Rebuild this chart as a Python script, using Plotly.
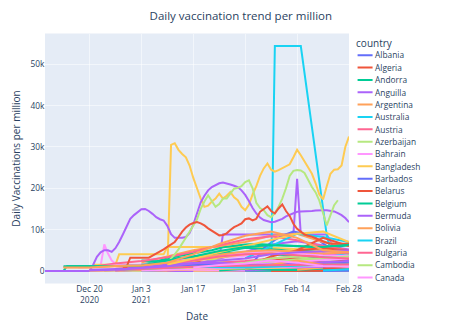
import pandas as pd
import plotly.graph_objects as go

# ---------------- data ----------------
week_dates = ["2020-12-13", "2020-12-20", "2020-12-27", "2021-01-03", "2021-01-10",
              "2021-01-17", "2021-01-24", "2021-01-31", "2021-02-07", "2021-02-14",
              "2021-02-21", "2021-02-28"]

countries = [
    "Albania", "Algeria", "Andorra", "Anguilla", "Argentina", "Australia", "Austria",
    "Azerbaijan", "Bahrain", "Bangladesh", "Barbados", "Belarus", "Belgium", "Bermuda",
    "Bolivia", "Brazil", "Bulgaria", "Cambodia", "Canada", "Cayman Islands", "Chile",
    "China", "Colombia", "Costa Rica", "Croatia", "Cyprus", "Czechia", "Denmark",
    "Dominican Republic", "Ecuador", "Egypt", "El Salvador", "England", "Estonia",
    "Faeroe Islands", "Falkland Islands", "Finland", "France", "Germany", "Gibraltar",
    "Greece", "Greenland", "Guernsey", "Guinea", "Guyana", "Hong Kong", "Hungary",
    "Iceland", "India", "Indonesia", "Iran", "Ireland", "Isle of Man", "Israel", "Italy",
    "Japan", "Jersey", "Kuwait", "Latvia", "Lebanon", "Liechtenstein", "Lithuania",
    "Luxembourg", "Macao", "Malaysia", "Maldives", "Malta", "Mauritius", "Mexico",
    "Monaco", "Montenegro", "Morocco", "Myanmar", "Nepal", "Netherlands", "New Zealand",
    "North Macedonia", "Northern Cyprus", "Northern Ireland", "Norway", "Oman",
    "Pakistan", "Panama", "Paraguay", "Peru", "Poland", "Portugal", "Qatar", "Romania",
    "Russia", "Rwanda", "Saint Helena", "San Marino", "Saudi Arabia", "Scotland",
    "Senegal", "Serbia", "Seychelles", "Singapore", "Slovakia", "Slovenia",
    "South Africa", "South Korea", "Spain", "Sri Lanka", "Sweden", "Switzerland",
    "Thailand", "Turkey", "Turks and Caicos Islands", "Ukraine", "United Arab Emirates",
    "United Kingdom", "United States", "Wales", "Zimbabwe"]

# legend entries visible in the (scroll-truncated) legend of the reference
legend_visible = ["Albania", "Algeria", "Andorra", "Anguilla", "Argentina", "Australia",
                  "Austria", "Azerbaijan", "Bahrain", "Bangladesh", "Barbados", "Belarus",
                  "Belgium", "Bermuda", "Bolivia", "Brazil", "Bulgaria", "Cambodia",
                  "Canada"]

# daily series (start date + one value per day)
israel_start = "2020-12-08"
israel_vals = [0, 0, 0, 0, 0, 0, 0, 0, 0, 0, 0, 0, 0,
               1500, 3400, 4500, 5000, 5000, 4600, 5500, 7000, 8800, 10800, 12600,
               13500, 14200, 14900, 15000, 14500, 13800, 13000, 12500, 12200, 10900,
               8900, 8000, 8000, 8000, 8200, 9200, 11200, 13800, 16600, 18200,
               19500, 20300, 20800, 21200, 21400, 21200, 20900, 20600, 20300, 19500, 18400,
               16900, 15200, 13900, 12900, 12300, 12000, 11800, 11900, 12200, 12600,
               13200, 13600, 14000, 14300, 14400, 14400, 14400, 14500, 14600, 14700,
               14700, 14700, 14600, 14400, 14000, 13500, 12800, 11800]

gibraltar_start = "2021-01-10"
gibraltar_vals = [0, 30500, 30900, 29300, 28300, 27500, 25500, 22500, 20000, 17500,
                  15500, 15800, 16800, 17500, 18700, 17500, 18200, 19100, 17800, 17100,
                  15500, 14700,
                  16000, 18500, 20500, 23000, 24800, 26000, 24500, 24000, 24400, 24900,
                  25300, 25800, 27500, 29300, 28000, 26600, 25000, 23500, 21200, 18500,
                  17300, 20500, 23500, 24500, 24600, 25500, 30000, 32500]

uae_start = "2020-12-29"
uae_vals = [1000, 1000, 3200,
            3200, 3200, 3200, 3200, 3200, 3700, 4200, 4600, 5200, 5800,
            6400, 7000, 8200, 9500, 10500, 11200, 11600, 11800, 11500, 11000,
            10300, 9700, 9100, 8600, 8700, 9100, 9900, 10600, 11000, 11500, 12500,
            12700, 12200, 12600, 14300, 15000, 15600, 14500, 13900, 15100, 16100,
            14500, 13300, 11400, 10200, 9500, 8800, 8500, 8300, 7900, 7500,
            7100, 6800, 6600, 6600, 6600, 6600, 6600, 6600]

seychelles_start = "2021-01-10"
seychelles_vals = [2000, 3000, 4000, 5200, 6500, 8000, 9500, 11000, 12500, 15000,
                   16800, 18300, 17000, 15500, 16200, 17500, 17500, 18800, 19900, 20100,
                   20500, 21500,
                   21900, 20000, 16500, 15200, 14700, 13500, 13000, 14000, 15500, 17500,
                   20000, 23000, 24200, 24400, 24300, 23700, 22000, 20300, 19000, 17000,
                   14000, 11000, 13500, 15900, 17100]

# irregularly dated series
falkland_dates = ["2021-02-01", "2021-02-07", "2021-02-08", "2021-02-15", "2021-02-22",
                  "2021-02-23", "2021-02-25", "2021-02-28"]
falkland_vals = [0, 0, 54400, 54400, 8600, 5000, 4000, 3500]

anguilla_dates = ["2021-01-18", "2021-01-21", "2021-01-24", "2021-01-25", "2021-02-13",
                  "2021-02-14", "2021-02-15", "2021-02-22", "2021-02-24", "2021-02-26",
                  "2021-02-28"]
anguilla_vals = [1500, 2500, 3000, 8800, 8800, 22300, 8800, 8800, 5500, 4500, 4000]

england_dates = ["2020-12-13", "2020-12-14", "2021-01-04", "2021-01-06", "2021-01-08",
                 "2021-01-10", "2021-01-13", "2021-01-16", "2021-01-19", "2021-01-22",
                 "2021-01-25", "2021-01-28", "2021-01-31", "2021-02-03", "2021-02-06",
                 "2021-02-09", "2021-02-12", "2021-02-15", "2021-02-18", "2021-02-21",
                 "2021-02-24", "2021-02-28"]
england_vals = [0, 1200, 1250, 1800, 2500, 3000, 3600, 4100, 4500, 5000, 5700, 6100,
                6400, 6500, 6400, 6300, 6100, 5900, 5800, 5900, 6100, 6400]

bahrain_dates = ["2020-12-17", "2020-12-22", "2020-12-23", "2020-12-24", "2020-12-25",
                 "2020-12-26", "2020-12-27", "2020-12-29", "2021-01-02", "2021-01-08",
                 "2021-01-15", "2021-01-22", "2021-01-29", "2021-02-05", "2021-02-12",
                 "2021-02-19", "2021-02-24", "2021-02-28"]
bahrain_vals = [800, 1000, 1200, 6400, 4200, 2500, 1800, 1500, 1500, 1800, 2200, 3000,
                3500, 4000, 4500, 4200, 4500, 4800]

cayman_dates = ["2020-12-21", "2020-12-27", "2020-12-28", "2021-01-09", "2021-01-10",
                "2021-01-31", "2021-02-07", "2021-02-14", "2021-02-21", "2021-02-28"]
cayman_vals = [1500, 1500, 4000, 4000, 5800, 5800, 5600, 5300, 5000, 4600]

chile_dates = ["2020-12-24", "2021-01-01", "2021-01-15", "2021-01-25", "2021-02-01",
               "2021-02-03", "2021-02-05", "2021-02-08", "2021-02-10", "2021-02-13",
               "2021-02-16", "2021-02-19", "2021-02-22", "2021-02-25", "2021-02-28"]
chile_vals = [100, 300, 300, 400, 1000, 3000, 5500, 7500, 8500, 9500, 9000, 8000, 6000,
              5000, 4500]

# weekly series (values aligned to the last entries of week_dates)
albania = [60, 90, 120, 200, 300, 450, 600]
algeria = [5, 15, 25, 30, 40]
andorra = [500, 900, 1500, 2300, 2800, 2400]
argentina = [50, 350, 450, 550, 650, 700, 650, 550, 500]
australia = [30, 450]
austria = [80, 250, 450, 550, 550, 700, 850, 1100, 1300, 1350]
azerbaijan = [150, 350, 650, 950, 1300, 1700]
bangladesh = [40, 350, 950, 1250, 1100]
barbados = [2200, 4200, 3600]
belarus = [50, 100, 120, 150, 200, 220, 250, 280, 300]
belgium = [30, 200, 400, 600, 800, 950, 1400, 1900, 2300]
bermuda = [1200, 3000, 4600, 6400, 7200, 6200, 5200]
bolivia = [5, 10, 25, 35, 45]
brazil = [350, 1300, 950, 850, 1300, 1250, 1150]
bulgaria = [50, 150, 300, 350, 600, 700, 900, 1000, 850, 900]
cambodia = [100, 350, 650]
canada = [30, 150, 350, 900, 1200, 1100, 900, 500, 600, 900, 1600]
china = [100, 200, 300, 450, 500, 550, 450, 400, 350, 300, 250]
colombia = [20, 250]
costa_rica = [200, 350, 450, 600, 700, 800, 900, 950, 1000, 1100]
croatia = [300, 600, 700, 800, 900, 1000, 1200, 1300, 1500, 1700]
cyprus = [300, 800, 1100, 1250, 1450, 1750, 2100, 2500, 3000, 3500]
czechia = [100, 400, 800, 1000, 950, 1000, 1400, 1550, 1800, 2100]
denmark = [300, 900, 2500, 3100, 2500, 1800, 2500, 3000, 3200, 3800]
dominican_republic = [100, 450]
ecuador = [20, 30, 40, 50, 60, 70]
egypt = [5, 10, 15, 20, 30]
el_salvador = [100, 350]
estonia = [300, 700, 1500, 1800, 1900, 2100, 2700, 3200, 3800, 4400]
faeroe_islands = [2000, 3500, 5000, 6000, 7000, 8500, 9000, 7000, 6000]
finland = [100, 400, 900, 1500, 1500, 1600, 2000, 2500, 2900, 3300]
france = [5, 20, 600, 1200, 1600, 1500, 1400, 1500, 2000, 2700]
germany = [200, 700, 900, 1000, 900, 800, 900, 1100, 1400, 1800]
greece = [100, 300, 700, 1200, 1400, 1400, 1800, 2200, 2300, 2500]
greenland = [1500, 2500, 1000, 800, 2500, 3000, 2000, 1500]
guernsey = [2500, 2200, 3300, 4200, 4500, 4000, 3600, 3300, 3000]
guinea = [2, 3, 3, 3, 4, 4, 4, 5]
guyana = [300, 900, 1500]
hong_kong = [50, 1600]
hungary = [100, 400, 800, 1000, 1000, 1200, 1300, 1600, 2000, 2600]
iceland = [500, 1000, 800, 1500, 1200, 1000, 2500, 1500, 2000]
india = [80, 150, 200, 250, 300, 350, 400]
indonesia = [20, 60, 100, 200, 250, 300, 350]
iran = [5, 10, 15]
ireland = [300, 600, 1000, 1500, 1200, 1300, 1500, 2000, 2300]
isle_of_man = [1500, 2800, 3500, 4300, 5600, 5200, 4800, 5500, 6200]
italy = [10, 600, 1200, 1300, 800, 700, 800, 1100, 1400, 1600]
japan = [30, 100]
jersey = [900, 1800, 2400, 3300, 4600, 6200, 7600, 8400, 7400, 6000, 5000]
kuwait = [300, 600, 800, 1000, 1200, 1500, 2200, 2800, 3000, 3300]
latvia = [50, 200, 400, 500, 400, 500, 600, 800, 900]
lebanon = [300, 900, 1200]
liechtenstein = [1000, 1500, 800, 600, 800, 1200, 1500]
lithuania = [300, 800, 1000, 1000, 1200, 1200, 1500, 1800, 2200, 2600]
luxembourg = [100, 300, 500, 800, 900, 1000, 1300, 1500, 1800]
macao = [500, 1000, 1200]
malaysia = [20, 300]
maldives = [3000, 6000, 9000, 8200, 7000]
malta = [500, 1000, 1200, 1500, 2000, 2400, 3000, 3500, 4000, 4500]
mauritius = [200, 500, 1000, 1200, 1000]
mexico = [30, 200, 400, 300, 200, 100, 100, 300, 500, 600]
monaco = [800, 1600, 2400, 3200, 4000, 4600, 5200, 5400, 5000]
montenegro = [200, 600]
morocco = [1000, 3500, 5000, 5500, 5000]
myanmar = [10, 50, 80, 100, 100]
nepal = [100, 300, 500, 600, 500]
netherlands = [100, 500, 800, 900, 1000, 1300, 1600, 1800]
new_zealand = [100, 200]
north_macedonia = [50, 100]
northern_cyprus = [1000, 1500, 2000, 3000, 3500, 2500, 2000]
northern_ireland = [1000, 1000, 1300, 1500, 2200, 3000, 3800, 4400, 4800, 4300, 3800, 3600]
norway = [100, 500, 800, 1200, 1000, 900, 1000, 1300, 1500, 1700]
oman = [200, 400, 500, 600, 500, 400, 600, 800, 1000, 1100]
pakistan = [5, 10, 20, 30]
panama = [100, 500, 300, 200, 600, 900]
paraguay = [5, 20]
peru = [300, 800, 900]
poland = [100, 300, 800, 1000, 900, 1000, 1200, 1500, 1800, 2000]
portugal = [200, 600, 900, 1100, 1300, 1400, 1300, 1300, 1700, 2000]
qatar = [200, 500, 800, 1000, 1200, 1500, 2000, 2500, 3000, 3500]
romania = [100, 300, 600, 900, 1300, 1400, 1800, 2200, 2600, 3000]
russia = [50, 100, 200, 300, 400, 500, 600, 700, 800, 900, 1000]
rwanda = [1000, 2500]
saint_helena = [5000, 8000, 6000]
san_marino = [200, 1500]
saudi_arabia = [300, 500, 700, 800, 900, 1000, 1100, 1000, 900, 1000, 1100]
scotland = [900, 900, 1100, 1300, 1900, 2800, 3900, 4700, 5000, 4600, 4200, 4500]
senegal = [20, 200]
serbia = [100, 300, 1500, 2500, 3500, 4000, 4200, 3800, 3300, 3000]
singapore = [100, 300, 500, 700, 800, 900, 1000, 1200, 1500]
slovakia = [100, 400, 700, 800, 900, 1000, 1100, 1300, 1500, 1700]
slovenia = [300, 800, 1300, 1500, 1400, 1300, 1500, 1800, 2000, 2200]
south_africa = [500, 800]
south_korea = [20, 300]
spain = [100, 800, 1500, 1900, 2000, 1500, 1500, 1700, 2000, 2400]
sri_lanka = [500, 1500, 2500, 1500, 1000]
sweden = [200, 500, 800, 1000, 900, 800, 1000, 1300, 1500, 1700]
switzerland = [200, 500, 800, 1000, 1200, 1300, 1300, 1400, 1500, 1600]
thailand = [0, 30]
turkey = [800, 1400, 1800, 2500, 2000, 1200, 1000]
turks_and_caicos = [1500, 3000, 4500, 6000, 7500, 9000, 9500, 7000]
ukraine = [0, 50]
united_kingdom = [1100, 1100, 1200, 1300, 2500, 3500, 4800, 5800, 6200, 6000, 5800, 6300]
united_states = [100, 300, 700, 1100, 1800, 2500, 3000, 4000, 4500, 4700, 5000]
wales = [800, 800, 1200, 1300, 2000, 4000, 6500, 8500, 9500, 8000, 5000, 4500]
zimbabwe = [100, 400]

# ---------------- figure ----------------
def daily_dates(start, n):
    return pd.date_range(start, periods=n, freq="D").strftime("%Y-%m-%d").tolist()

explicit = {
    "Israel": (daily_dates(israel_start, len(israel_vals)), israel_vals),
    "Gibraltar": (daily_dates(gibraltar_start, len(gibraltar_vals)), gibraltar_vals),
    "United Arab Emirates": (daily_dates(uae_start, len(uae_vals)), uae_vals),
    "Seychelles": (daily_dates(seychelles_start, len(seychelles_vals)), seychelles_vals),
    "Falkland Islands": (falkland_dates, falkland_vals),
    "Anguilla": (anguilla_dates, anguilla_vals),
    "England": (england_dates, england_vals),
    "Bahrain": (bahrain_dates, bahrain_vals),
    "Cayman Islands": (cayman_dates, cayman_vals),
    "Chile": (chile_dates, chile_vals),
}

weekly = {
    "Albania": albania, "Algeria": algeria, "Andorra": andorra, "Argentina": argentina,
    "Australia": australia, "Austria": austria, "Azerbaijan": azerbaijan,
    "Bangladesh": bangladesh, "Barbados": barbados, "Belarus": belarus,
    "Belgium": belgium, "Bermuda": bermuda, "Bolivia": bolivia, "Brazil": brazil,
    "Bulgaria": bulgaria, "Cambodia": cambodia, "Canada": canada, "China": china,
    "Colombia": colombia, "Costa Rica": costa_rica, "Croatia": croatia, "Cyprus": cyprus,
    "Czechia": czechia, "Denmark": denmark, "Dominican Republic": dominican_republic,
    "Ecuador": ecuador, "Egypt": egypt, "El Salvador": el_salvador, "Estonia": estonia,
    "Faeroe Islands": faeroe_islands, "Finland": finland, "France": france,
    "Germany": germany, "Greece": greece, "Greenland": greenland, "Guernsey": guernsey,
    "Guinea": guinea, "Guyana": guyana, "Hong Kong": hong_kong, "Hungary": hungary,
    "Iceland": iceland, "India": india, "Indonesia": indonesia, "Iran": iran,
    "Ireland": ireland, "Isle of Man": isle_of_man, "Italy": italy, "Japan": japan,
    "Jersey": jersey, "Kuwait": kuwait, "Latvia": latvia, "Lebanon": lebanon,
    "Liechtenstein": liechtenstein, "Lithuania": lithuania, "Luxembourg": luxembourg,
    "Macao": macao, "Malaysia": malaysia, "Maldives": maldives, "Malta": malta,
    "Mauritius": mauritius, "Mexico": mexico, "Monaco": monaco, "Montenegro": montenegro,
    "Morocco": morocco, "Myanmar": myanmar, "Nepal": nepal, "Netherlands": netherlands,
    "New Zealand": new_zealand, "North Macedonia": north_macedonia,
    "Northern Cyprus": northern_cyprus, "Northern Ireland": northern_ireland,
    "Norway": norway, "Oman": oman, "Pakistan": pakistan, "Panama": panama,
    "Paraguay": paraguay, "Peru": peru, "Poland": poland, "Portugal": portugal,
    "Qatar": qatar, "Romania": romania, "Russia": russia, "Rwanda": rwanda,
    "Saint Helena": saint_helena, "San Marino": san_marino, "Saudi Arabia": saudi_arabia,
    "Scotland": scotland, "Senegal": senegal, "Serbia": serbia, "Singapore": singapore,
    "Slovakia": slovakia, "Slovenia": slovenia, "South Africa": south_africa,
    "South Korea": south_korea, "Spain": spain, "Sri Lanka": sri_lanka, "Sweden": sweden,
    "Switzerland": switzerland, "Thailand": thailand, "Turkey": turkey,
    "Turks and Caicos Islands": turks_and_caicos, "Ukraine": ukraine,
    "United Kingdom": united_kingdom, "United States": united_states, "Wales": wales,
    "Zimbabwe": zimbabwe,
}

fig = go.Figure()
for name in countries:
    if name in explicit:
        xs, ys = explicit[name]
    else:
        ys = weekly[name]
        xs = week_dates[-len(ys):]
    fig.add_trace(go.Scatter(x=xs, y=ys, mode="lines", name=name, line=dict(width=4),
                             showlegend=name in legend_visible))

fig.update_layout(
    template="plotly",
    width=948, height=660,
    font=dict(family="Open Sans", size=16.7),
    title=dict(text="Daily vaccination trend per million", x=0.508, xanchor="center",
               y=0.952, yanchor="middle"),
    xaxis=dict(title=dict(text="Date"), range=["2020-12-08", "2021-02-28"],
               dtick=14 * 86400000, tick0="2020-12-20"),
    yaxis=dict(title=dict(text="Daily Vaccinations per million"), range=[-3050, 57450]),
    legend=dict(title=dict(text="country")),
    margin=dict(l=90, r=250, t=67, b=93, autoexpand=False),
)

# the reference is a half-size rendering: lay out at 2x and scale the page down
post = """
var gd = document.getElementById('{plot_id}');
document.documentElement.style.margin = '0';
document.body.style.margin = '0';
document.documentElement.style.overflow = 'hidden';
document.body.style.overflow = 'hidden';
gd.style.transformOrigin = '0 0';
gd.style.transform = 'scale(0.5)';
gd.querySelectorAll('rect.scrollbar').forEach(function(r){ r.style.display = 'none'; });
"""

fig.write_html("out.html", post_script=post)
